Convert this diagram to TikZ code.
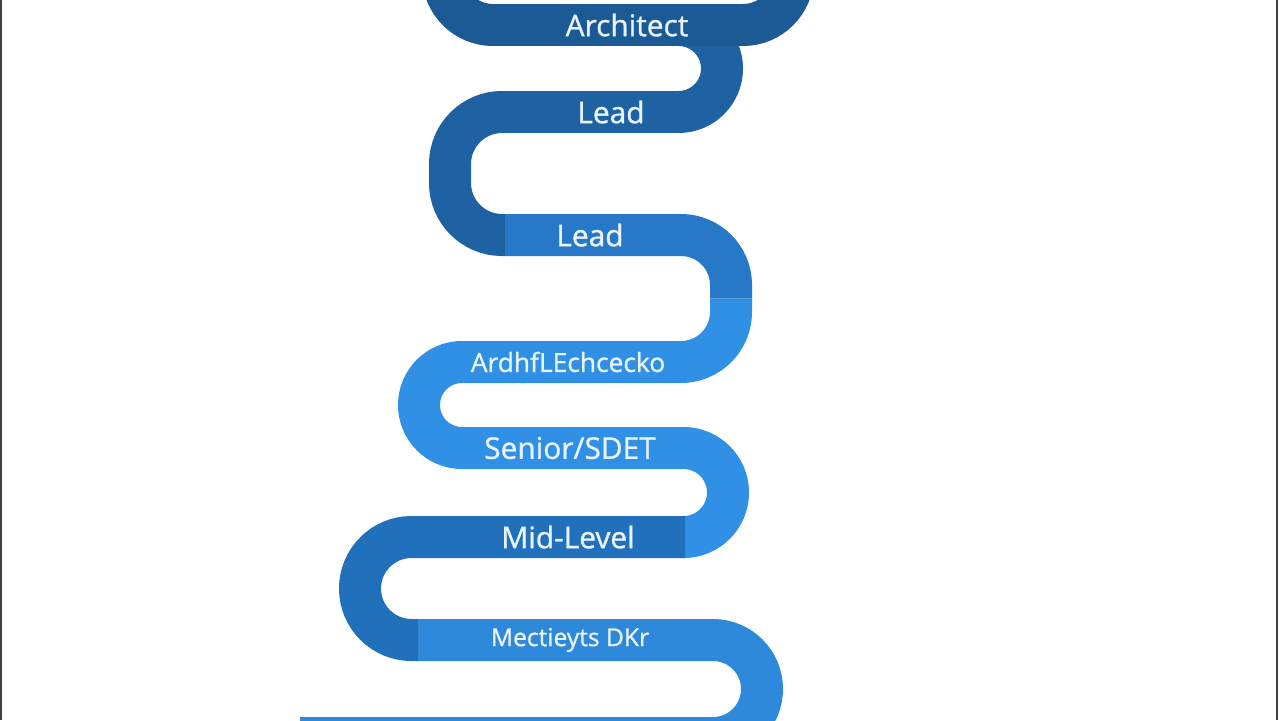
\documentclass[tikz,border=0pt]{standalone}
\usepackage{fontspec}
\setmainfont{Open Sans}
\newfontfamily\lblfont{Open Sans}[FakeBold=1]
\usepackage{xcolor}
\usetikzlibrary{calc}
\definecolor{archblue}{HTML}{1B5A94}
\definecolor{leadblue}{HTML}{1E62A4}
\definecolor{midblue}{HTML}{2878C8}
\definecolor{brightblue}{HTML}{3090E5}
\definecolor{deepblue}{HTML}{2170BC}
\definecolor{lbltext}{HTML}{E9F3FC}
\tikzset{band/.style={line width=0.84cm},
         lbl/.style={text=lbltext, font=\lblfont\fontsize{17}{19}\selectfont, inner sep=1pt}}

\begin{document}
\begin{tikzpicture}[x=0.02cm, y=-0.02cm]
\useasboundingbox (0,0) rectangle (1280,720);
\fill[white] (0,0) rectangle (1280,720);
\begin{scope}
\clip (0,0) rectangle (1280,720);
% bends and rows, top to bottom
\draw[band, leadblue] (660,25) -- (678.5,25) arc(-90:90:43.5) -- (502,112) arc(270:180:52) -- (450,183) arc(180:90:52) -- (505,235);
% top loop, over the first bend
\draw[band, archblue] (443,-80) -- (443,-25) arc(180:90:50) -- (743,25) arc(90:0:50) -- (793,-80);
\draw[band, midblue] (505,235) -- (681,235) arc(-90:0:50) -- (731,298.5);
\draw[band, brightblue] (731,298.5) -- (731,312) arc(0:90:50) -- (462,362) arc(270:90:43) -- (683.5,448) arc(-90:90:44.5) -- (685,537);
\draw[band, deepblue] (685,537) -- (411.5,537) arc(270:90:51.5) -- (418,640);
\draw[band, brightblue!95!black] (418,640) -- (713,640) arc(-90:90:49) -- (300,738);
\end{scope}
% labels
\node[lbl] (architect) at (627,25) {Architect};
\node[lbl] (leadone) at (611,112) {Lead};
\node[lbl] (leadtwo) at (590,235) {Lead};
\node[lbl, font=\lblfont\fontsize{15}{17}\selectfont] (archlead) at (568,362) {ArdhfLEchcecko};
\node[lbl] (senior) at (570,448) {Senior/SDET};
\node[lbl] (midlevel) at (568,537) {Mid-Level};
\node[lbl, font=\lblfont\fontsize{14}{16}\selectfont] (mecty) at (570,640) {Mectieyts DKr};
% frame edges
\draw[black!75, line width=1.5pt] (1,0) -- (1,720);
\draw[black!75, line width=1.5pt] (1277,0) -- (1277,720);
\end{tikzpicture}
\end{document}
